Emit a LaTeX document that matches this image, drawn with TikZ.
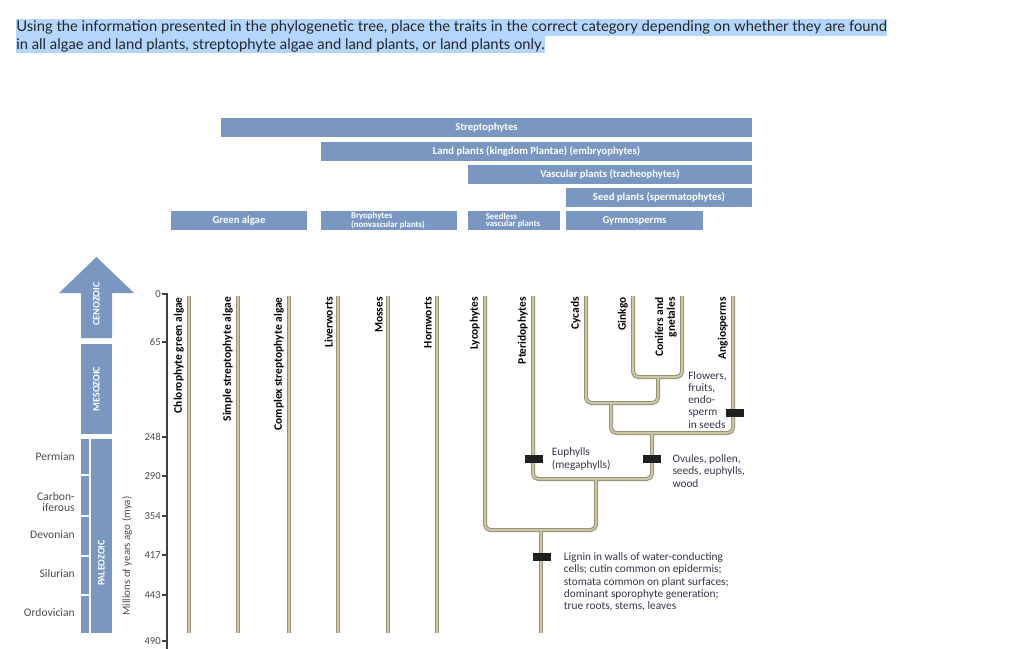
\documentclass[tikz,border=0pt]{standalone}
\usepackage{fontspec}
\setmainfont{Carlito}
\newfontfamily\titlefont{Lato}
\usetikzlibrary{positioning}
\definecolor{bandblue}{RGB}{121,151,192}
\definecolor{lineedge}{RGB}{150,145,115}
\definecolor{linefill}{RGB}{203,198,168}
\definecolor{notetext}{RGB}{58,52,72}
\definecolor{hilite}{RGB}{180,214,252}
\tikzset{
  every node/.append style={font=\fontsize{8}{9}\selectfont},
  band/.style={fill=bandblue},
  bandtext/.style={text=white, font=\fontsize{8}{9}\selectfont\bfseries, inner sep=0pt},
  clade/.style={rotate=90, anchor=south east, align=right, inner sep=0pt, font=\fontsize{8.6}{8.8}\selectfont\bfseries},
  synapo/.style={fill=black!88, minimum width=14pt, minimum height=6.5pt, inner sep=0pt},
  note/.style={text=notetext, align=left, inner sep=0pt, font=\fontsize{8.5}{9.2}\selectfont},
  period/.style={text=black!70, align=right, anchor=east, inner sep=0pt, font=\fontsize{8.7}{8.6}\selectfont},
  era/.style={rotate=90, text=white, inner sep=0pt, font=\fontsize{7.5}{8}\selectfont\bfseries},
  ticklab/.style={text=black!70, anchor=east, inner sep=0pt, font=\fontsize{8}{8}\selectfont},
  titleline/.style={fill=hilite, text=black!85, inner xsep=0pt, inner ysep=0pt, text height=9.9pt, text depth=2.9pt, font=\titlefont\fontsize{11.1}{12}\selectfont},
}

\begin{document}
\begin{tikzpicture}[x=0.75pt, y=-0.75pt]
  \useasboundingbox (0,0) rectangle (1024,649);

  \node[titleline, anchor=base west] (q1) at (16,32) {Using the information presented in the phylogenetic tree, place the traits in the correct category depending on whether they are found};
  \node[titleline, below=0pt of q1.south west, anchor=north west] (q2) {in all algae and land plants, streptophyte algae and land plants, or land plants only.};

  \foreach \name/\xa/\xb/\ya/\txt in {strep/221/752/118/Streptophytes,
      land/321/752/142/Land plants (kingdom Plantae) (embryophytes),
      vasc/468/752/165/Vascular plants (tracheophytes),
      seed/566/752/188/Seed plants (spermatophytes),
      green/171/307/211/Green algae, gymno/566/703/211/Gymnosperms}
  {
    \fill[band] (\xa,\ya) rectangle (\xb,\ya+19);
    \node[bandtext] (\name) at ({(\xa+\xb)/2},\ya+9.5) {\txt};
  }
  \fill[band] (321,211) rectangle (457,230);
  \node[bandtext, align=left, font=\fontsize{6.6}{5.8}\selectfont\bfseries] (bryo) at (388,220.5) {Bryophytes\\(nonvascular plants)};
  \fill[band] (468,211) rectangle (560,230);
  \node[bandtext, align=left, font=\fontsize{6.6}{5.8}\selectfont\bfseries] (seedless) at (513,220.5) {Seedless\\vascular plants};

  \fill[band] (81,338) -- (81,293) -- (59,293) -- (96.5,257) -- (134,293) -- (112,293) -- (112,338) -- cycle;
  \node[era] (ceno) at (96.5,304) {CENOZOIC};
  \fill[band] (81,344) rectangle (112,434);
  \node[era] (meso) at (96.5,389) {MESOZOIC};
  \fill[band] (91,439) rectangle (112,633);
  \node[era] (paleo) at (101.5,563) {PALEOZOIC};
  \foreach \ya/\yb in {439/474,476/515,517/555,557/594,596/633}
    \fill[band] (81,\ya) rectangle (89,\yb);
  \foreach \name/\y/\txt in {perm/457/Permian, carb/502/{Carbon-\\iferous},
      dev/535/Devonian, sil/574/Silurian, ord/613/Ordovician}
    \node[period] (\name) at (75,\y) {\txt};

  \draw[black!75, line width=0.8pt] (167,293) -- (167,649);
  \foreach \t/\y in {0/294,65/342,248/437,290/476,354/516,417/555,443/595,490/641}
  {
    \draw[black!75, line width=0.8pt] (162,\y) -- (167,\y);
    \node[ticklab] (tick\t) at (161,\y) {\t};
  }
  \node[rotate=90, text=black!70, font=\fontsize{8.2}{9}\selectfont] (mya) at (127,556) {Millions of years ago (mya)};

  \foreach \name/\x/\txt in {chl/189/Chlorophyte green algae, sim/238/Simple streptophyte algae,
      cpx/289/Complex streptophyte algae, liv/338/Liverworts, mos/388/Mosses,
      hor/437/Hornworts, lyc/485/Lycophytes, pte/533/Pteridophytes, cyc/586/Cycads,
      gin/633/Ginkgo, con/682/{Conifers and\\gnetales}, ang/733/Angiosperms}
  {
    \coordinate (\name) at (\x,296);
    \node[clade] (\name-lab) at (\x-5,297) {\txt};
  }
  \coordinate (j1) at (658,377);
  \coordinate (k1) at (658,403);
  \coordinate (j2) at (611,403);
  \coordinate (k2) at (611,433);
  \coordinate (j3) at (652,433);
  \coordinate (k3) at (652,479);
  \coordinate (j4) at (596,479);
  \coordinate (k4) at (596,530);
  \coordinate (j5) at (541,530);
  \coordinate (root) at (541,633);

  \foreach \w/\c in {3/lineedge, 1.5/linefill}
  {
    \begin{scope}[line width=\w pt, draw=\c, rounded corners=4pt]
      \foreach \name in {chl,sim,cpx,liv,mos,hor}
        \draw (\name) -- (\name |- root);
      \draw (gin) |- (j1) -| (con);
      \draw (cyc) |- (k1) -- (j1);
      \draw (j2) -- (k2) -| (ang);
      \draw (pte) |- (k3) -- (j3);
      \draw (lyc) |- (k4) -- (j4);
      \draw (j5) -- (root);
    \end{scope}
  }

  \node[synapo] (euph-m) at (534,459) {};
  \node[synapo] (ovule-m) at (652,459) {};
  \node[synapo] (lignin-m) at (542,557) {};
  \node[synapo] (flower-m) at (735,413) {};
  \node[note, right=6pt of euph-m] (euph) {Euphylls\\(megaphylls)};
  \node[note, right=8pt of ovule-m.north east, anchor=north west] (ovule) {Ovules, pollen,\\seeds, euphylls,\\wood};
  \node[note, right=9pt of lignin-m.north east, anchor=north west] (lignin) {Lignin in walls of water-conducting\\cells; cutin common on epidermis;\\stomata common on plant surfaces;\\dominant sporophyte generation;\\true roots, stems, leaves};
  \node[note, anchor=north west] (flower) at (688,371) {Flowers,\\fruits,\\endo-\\sperm\\in seeds};
\end{tikzpicture}
\end{document}
